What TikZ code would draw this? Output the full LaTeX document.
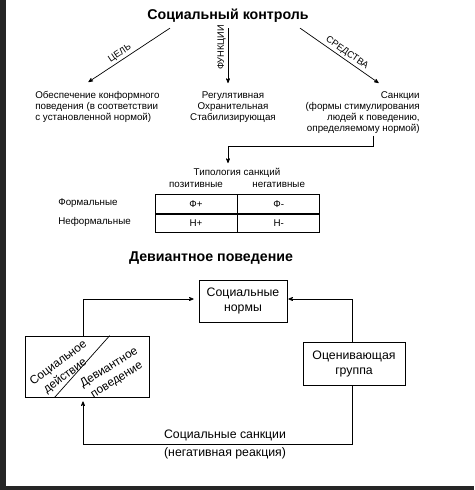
\documentclass[tikz,border=0pt]{standalone}
\usepackage{fontspec}
\setmainfont{Liberation Sans}
\usetikzlibrary{arrows}
\usetikzlibrary{positioning}

\begin{document}
\begin{tikzpicture}[->,>=stealth',x=1pt,y=-1pt,line width=0.7pt,
		small text/.style={font=\fontsize{9.8}{11}\selectfont,inner sep=0pt},
		big text/.style={font=\fontsize{12.3}{15}\selectfont},
		head/.style={font=\fontsize{14.2}{16}\selectfont\bfseries,inner sep=0pt},
		arrow label/.style={font=\fontsize{9.3}{10}\selectfont,inner sep=2pt},
		slanted text/.style={font=\fontsize{11.8}{14.5}\selectfont,inner sep=0pt},
		cell/.style={draw,-,minimum width=82pt,minimum height=18.5pt,
			font=\fontsize{9.8}{11}\selectfont},
		box/.style={draw,align=center,big text}]
	
	\useasboundingbox (0,0) rectangle (474,490);
	\fill[black!85] (0,0) rectangle (5.5,490);
	\fill[black!85] (0,486) rectangle (474,490);
	
	% social control
	\node[head] (ctrl) at (228,16) {Социальный контроль};
	\node[small text,align=left,anchor=north west] (goal) at (35,91)
		{Обеспечение конформного\\поведения (в соответствии\\с установленной нормой)};
	\node[small text,align=center,anchor=north] (func) at (233,91)
		{Регулятивная\\Охранительная\\Стабилизирующая};
	\node[small text,align=right,anchor=north east] (sanc) at (420,91)
		{Санкции\\(формы стимулирования\\людей к поведению,\\определяемому нормой)};
	
	\draw ([xshift=-58pt,yshift=-5pt]ctrl.south) -- ([xshift=-9pt,yshift=9pt]goal.north)
		node[arrow label,pos=0.57,sloped,above] {ЦЕЛЬ};
	\draw ([yshift=-5pt]ctrl.south) -- ([xshift=-5pt,yshift=8pt]func.north)
		node[arrow label,pos=0.35,rotate=90,anchor=south] {ФУНКЦИИ};
	\draw ([xshift=72pt,yshift=-5pt]ctrl.south) -- ([xshift=16pt,yshift=8pt]sanc.north)
		node[arrow label,pos=0.55,sloped,above] {СРЕДСТВА};
	
	% typology
	\node[small text] (typ) at (237,173) {Типология санкций};
	\draw ([xshift=11pt,yshift=-2pt]sanc.south) -- ++(0,11) -| ([xshift=-9pt,yshift=5pt]typ.north);
	
	\node[cell] (fp) at (196,204) {Ф+};
	\node[cell,right=0pt of fp] (fm) {Ф-};
	\node[cell,below=0pt of fp] (np) {Н+};
	\node[cell,below=0pt of fm] (nm) {Н-};
	\node[small text,above=6pt of fp] (posi) {позитивные};
	\node[small text,above=6pt of fm] (nega) {негативные};
	\node[small text,anchor=west] (form) at (58,203) {Формальные};
	\node[small text,anchor=west] (inform) at (58,222) {Неформальные};
	
	% deviant behaviour
	\node[head] (dev) at (211,258) {Девиантное поведение};
	\node[box,minimum width=88pt,minimum height=42pt] (norms) at (243,301) {Социальные\\нормы};
	\node[box,minimum width=124pt,minimum height=61pt] (act) at (87,366.5) {};
	\node[box,minimum width=102pt,minimum height=43pt] (group) at (354,363.5) {Оценивающая\\группа};
	\draw[-] ([xshift=30pt]act.south west) -- ([xshift=85pt]act.north west);
	\node[slanted text,align=left,rotate=37] (socact) at (63,369) {Социальное\\\hspace{6pt}действие};
	\node[slanted text,align=center,rotate=32] (devact) at (113,374) {Девиантное\\поведение};
	
	\draw[shorten >=5pt] ([xshift=-4pt]act.north) |- ([yshift=2pt]norms.west);
	\draw[shorten >=1pt] ([xshift=-2pt]group.north) |- ([yshift=2pt]norms.east);
	\draw[shorten >=4pt] ([xshift=-2pt]group.south) -- ++(0,59) -| ([xshift=-4pt]act.south)
		node[big text,pos=0.236,above] (sslab) {Социальные санкции}
		node[big text,pos=0.236,below] (neglab) {(негативная реакция)};
\end{tikzpicture}
\end{document}
